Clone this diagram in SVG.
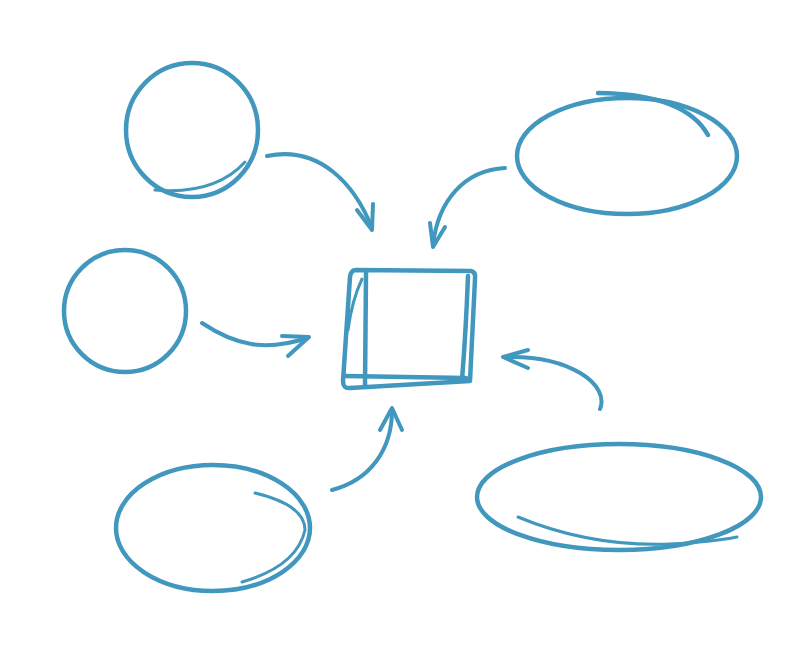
<svg xmlns="http://www.w3.org/2000/svg" width="800" height="655" viewBox="0 0 800 655">
<style>
.s{fill:none;stroke:#4197bd;stroke-linecap:round;stroke-linejoin:round}
.n{stroke-width:4.5}
.t{stroke-width:3}
.a{stroke-width:4}
</style>
<rect width="800" height="655" fill="#ffffff"/>
<g id="center">
<path class="s n" d="M356,270 L471,271 Q476,272 475,279 L470,381 L350,388 Q343,389 343,381 L350,277 Q351,270 356,270"/>
<path class="s n" d="M366,273 L365,386"/>
<path class="s n" d="M468,276 Q466,330 462,380"/>
<path class="s n" d="M345,376 L466,378"/>
<path class="s t" d="M362,279 Q352,300 348,330"/>
</g>
<g id="node-top-left">
<ellipse class="s n" cx="192" cy="130" rx="66" ry="67"/>
<path class="s t" d="M155,190 Q215,195 245,162"/>
</g>
<g id="node-top-right">
<ellipse class="s n" cx="627" cy="156" rx="110" ry="58"/>
<path class="s n" d="M598,93 Q685,94 708,135"/>
</g>
<g id="node-left">
<ellipse class="s n" cx="125" cy="311" rx="61" ry="61"/>
</g>
<g id="node-bottom-left">
<ellipse class="s n" cx="213" cy="528" rx="97" ry="63"/>
<path class="s t" d="M255,493 Q305,505 305,530 Q297,566 242,582"/>
</g>
<g id="node-bottom-right">
<ellipse class="s n" cx="619" cy="497" rx="142" ry="53"/>
<path class="s t" d="M518,517 Q590,547 670,544 Q712,542 737,537"/>
</g>
<g id="connectors">
<path class="s a" d="M267,156 C320,145 355,185 372,228"/>
<path class="s a" d="M357,210 L372,230 L373,204"/>
<path class="s a" d="M505,168 C465,170 438,200 433,245"/>
<path class="s a" d="M430,223 L433,247 L445,227"/>
<path class="s a" d="M202,323 C235,345 265,352 307,338"/>
<path class="s a" d="M282,336 L309,337 L288,356"/>
<path class="s a" d="M332,490 C370,480 392,450 392,410"/>
<path class="s a" d="M380,430 L392,408 L402,430"/>
<path class="s a" d="M600,409 C610,385 570,355 505,357"/>
<path class="s a" d="M528,350 L503,357 L528,368"/>
</g>
</svg>
